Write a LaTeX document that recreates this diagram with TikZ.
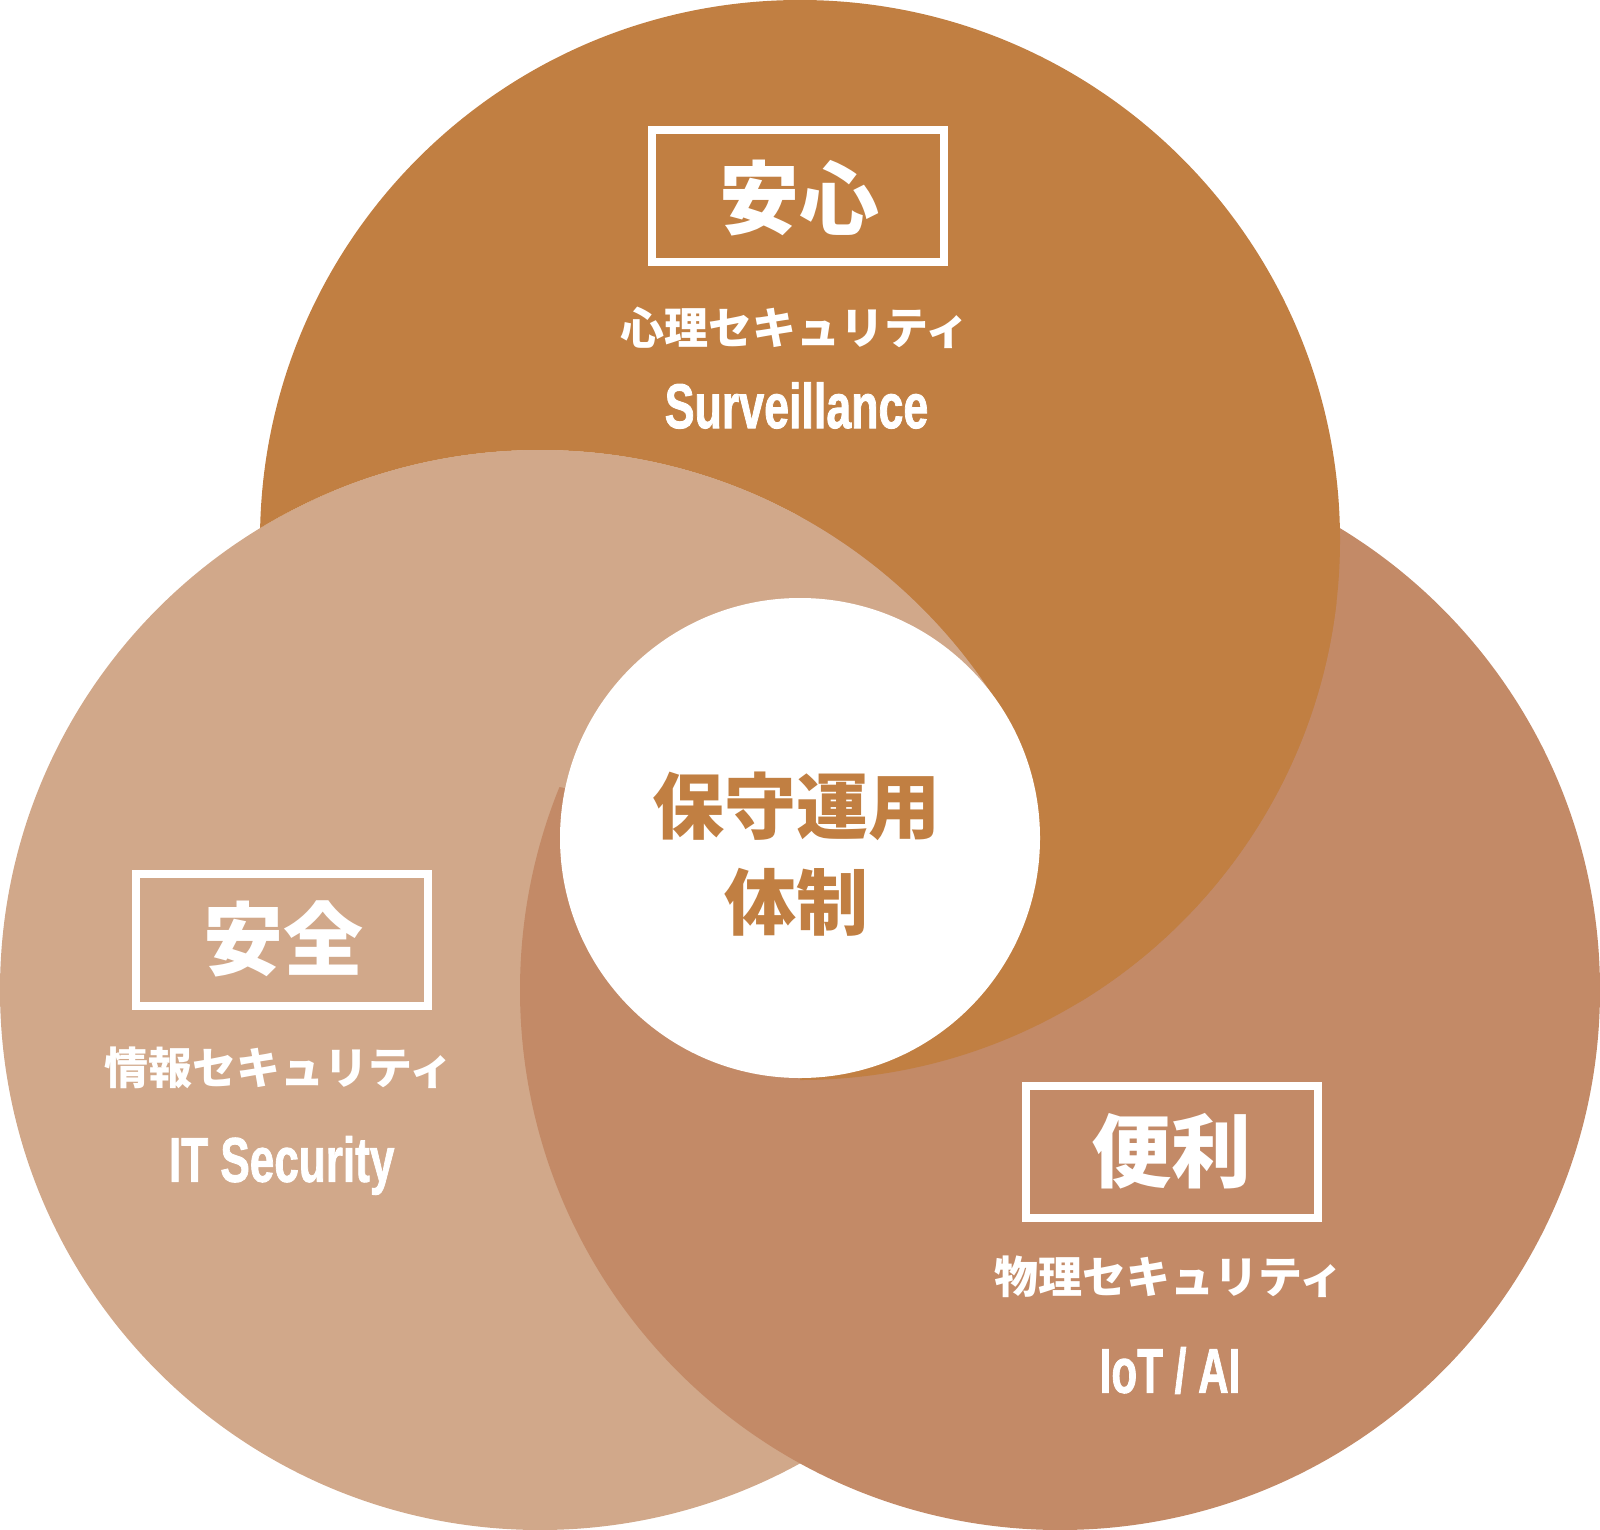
\documentclass[tikz,border=0pt]{standalone}
\usepackage{fontspec}
\setmainfont{Liberation Sans}
\newfontfamily\jp{Noto Sans CJK JP}
\newfontfamily\enfont{Liberation Sans}[FakeBold=1.6]
\definecolor{cT}{HTML}{C17F42}
\definecolor{cL}{HTML}{D1A88A}
\definecolor{cR}{HTML}{C38A67}
\tikzset{
  labelbox/.style={draw=white, line width=8pt, minimum width=292pt, minimum height=132pt, inner sep=0pt},
  bigjp/.style={inner sep=0pt, text=white, font=\jp\bfseries\fontsize{80pt}{80pt}\selectfont},
  subjp/.style={inner sep=0pt, text=white, font=\jp\bfseries\fontsize{44pt}{44pt}\selectfont},
  entext/.style={inner sep=0pt, anchor=base, text=white, font=\enfont\bfseries\fontsize{63pt}{63pt}\selectfont},
  centerjp/.style={inner sep=0pt, text=cT, font=\jp\bfseries\fontsize{72pt}{72pt}\selectfont}
}
\begin{document}
\begin{tikzpicture}[x=1pt,y=-1pt]
\useasboundingbox (0,0) rectangle (1600,1530);
\coordinate (T) at (800,540);
\coordinate (L) at (540,990);
\coordinate (R) at (1060,990);
\coordinate (W) at (800,838);
% left circle, then right circle over it
\fill[cL] (L) circle[radius=540pt];
\fill[cR] (R) circle[radius=540pt];
% top circle, everywhere outside the left circle
\begin{scope}[even odd rule]
\clip (-10,-10) rectangle (1610,1540) (L) circle[radius=540pt];
\fill[cT] (T) circle[radius=540pt];
\end{scope}
% upper part of the triple region, and top/left overlap: left colour
\begin{scope}
\clip (T) circle[radius=540pt];
\clip (L) circle[radius=540pt];
\fill[cL] (W) -- (1319.6,538) -- (1224.3,413.7) -- (800,238) -- (375.7,413.7) -- (213.1,713.3) -- cycle;
\end{scope}
% lower-right part of the triple region: top colour
\begin{scope}
\clip (T) circle[radius=540pt];
\clip (R) circle[radius=540pt];
\fill[cT] (W) -- (800,1438) -- (1224.3,1262.3) -- (1400,838) -- (1319.6,538) -- cycle;
\end{scope}
% centre circle
\fill[white] (W) circle[radius=240pt];
% top group
\node[labelbox] (boxT) at (797.7,196) {};
\node[bigjp] (kT) at (799,198) {安心};
\node[subjp] (sT) at (795,328) {心理セキュリティ};
\node[entext] (eT) at (796.5,428) {\scalebox{0.71}[1]{Surveillance}};
% left group
\node[labelbox] (boxL) at (282,940) {};
\node[bigjp] (kL) at (283,939) {安全};
\node[subjp] (sL) at (279,1068) {情報セキュリティ};
\node[entext] (eL) at (281.7,1181.7) {\scalebox{0.70}[1]{IT Security}};
% right group
\node[labelbox] (boxR) at (1172,1152) {};
\node[bigjp] (kR) at (1171,1151) {便利};
\node[subjp] (sR) at (1169,1277) {物理セキュリティ};
\node[entext] (eR) at (1170,1392.7) {\scalebox{0.67}[1]{IoT / AI}};
% centre text
\node[centerjp] (c1) at (796,806.7) {保守運用};
\node[centerjp] (c2) at (796,902.7) {体制};
\end{tikzpicture}
\end{document}
